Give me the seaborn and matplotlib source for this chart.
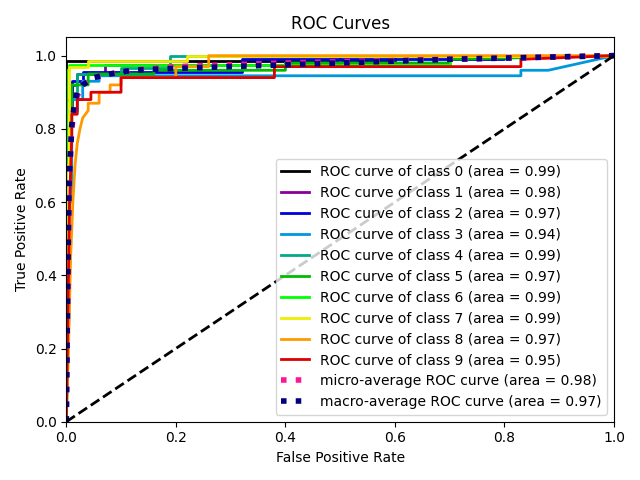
import numpy as np
import pandas as pd
import seaborn as sns
import matplotlib
matplotlib.use("Agg")
import matplotlib.pyplot as plt

# per-class ROC points (fpr, tpr)
fpr_0 = [0, 0, 0.6, 0.6, 1]
tpr_0 = [0, 0.984, 0.984, 1, 1]
fpr_1 = [0, 0, 0.01, 0.01, 0.02, 0.02, 0.07, 0.07, 0.5, 0.5, 1]
tpr_1 = [0, 0.85, 0.85, 0.92, 0.92, 0.95, 0.95, 0.975, 0.975, 1, 1]
fpr_2 = [0, 0, 0.01, 0.01, 0.03, 0.03, 0.32, 0.32, 0.8, 0.8, 1]
tpr_2 = [0, 0.88, 0.88, 0.93, 0.93, 0.955, 0.955, 0.99, 0.99, 1, 1]
fpr_3 = [0, 0.005, 0.005, 0.01, 0.01, 0.03, 0.03, 0.06, 0.06, 0.83, 0.83, 0.88, 1]
tpr_3 = [0, 0.3, 0.6, 0.6, 0.88, 0.88, 0.93, 0.93, 0.945, 0.945, 0.96, 0.96, 1]
fpr_4 = [0, 0, 0.02, 0.02, 0.1, 0.1, 0.19, 0.19, 1]
tpr_4 = [0, 0.85, 0.85, 0.95, 0.95, 0.965, 0.965, 1, 1]
fpr_5 = [0, 0, 0.01, 0.01, 0.04, 0.04, 0.16, 0.16, 0.4, 0.4, 0.7, 0.7, 1]
tpr_5 = [0, 0.8, 0.8, 0.92, 0.92, 0.95, 0.95, 0.96, 0.96, 0.98, 0.98, 0.99, 1]
fpr_6 = [0, 0, 0.005, 0.005, 0.7, 0.7, 1]
tpr_6 = [0, 0.96, 0.96, 0.975, 0.975, 1, 1]
fpr_7 = [0, 0, 0.005, 0.005, 0.04, 0.04, 0.22, 0.22, 1]
tpr_7 = [0, 0.7, 0.7, 0.97, 0.97, 0.985, 0.985, 1, 1]
fpr_8 = [0, 0.004, 0.008, 0.012, 0.016, 0.02, 0.025, 0.03, 0.04, 0.04, 0.06, 0.06, 0.08, 0.08, 0.1, 0.1, 0.2, 0.2, 0.26, 0.26, 1]
tpr_8 = [0, 0.2, 0.45, 0.6, 0.7, 0.76, 0.8, 0.83, 0.85, 0.87, 0.87, 0.9, 0.9, 0.92, 0.92, 0.94, 0.94, 0.97, 0.97, 1, 1]
fpr_9 = [0, 0.003, 0.006, 0.01, 0.01, 0.02, 0.02, 0.045, 0.045, 0.1, 0.1, 0.38, 0.38, 0.83, 0.83, 1]
tpr_9 = [0, 0.3, 0.6, 0.78, 0.84, 0.84, 0.88, 0.88, 0.9, 0.9, 0.94, 0.94, 0.97, 0.97, 0.99, 1]
fpr_micro = [0, 0.002, 0.005, 0.01, 0.015, 0.02, 0.03, 0.05, 0.08, 0.12, 0.2, 0.4, 0.7, 1]
tpr_micro = [0, 0.3, 0.65, 0.8, 0.86, 0.89, 0.92, 0.94, 0.95, 0.96, 0.97, 0.98, 0.99, 1]
fpr_macro = [0, 0.002, 0.005, 0.01, 0.015, 0.02, 0.03, 0.05, 0.08, 0.12, 0.2, 0.4, 0.7, 1]
tpr_macro = [0, 0.3, 0.65, 0.81, 0.87, 0.9, 0.92, 0.94, 0.95, 0.96, 0.965, 0.975, 0.99, 1]
areas = [0.99, 0.98, 0.97, 0.94, 0.99, 0.97, 0.99, 0.99, 0.97, 0.95]

fprs = [fpr_0, fpr_1, fpr_2, fpr_3, fpr_4, fpr_5, fpr_6, fpr_7, fpr_8, fpr_9]
tprs = [tpr_0, tpr_1, tpr_2, tpr_3, tpr_4, tpr_5, tpr_6, tpr_7, tpr_8, tpr_9]

fig, ax = plt.subplots(figsize=(6.4, 4.8), dpi=100)

for i in range(10):
    color = plt.cm.nipy_spectral(float(i) / 10)
    df = pd.DataFrame({"fpr": fprs[i], "tpr": tprs[i]})
    sns.lineplot(data=df, x="fpr", y="tpr", sort=False, estimator=None, ax=ax,
                 color=color, lw=2,
                 label="ROC curve of class {0} (area = {1:0.2f})".format(i, areas[i]))

sns.lineplot(x=fpr_micro, y=tpr_micro, sort=False, estimator=None, ax=ax,
             color="deeppink", linestyle=":", lw=4,
             label="micro-average ROC curve (area = 0.98)")
sns.lineplot(x=fpr_macro, y=tpr_macro, sort=False, estimator=None, ax=ax,
             color="navy", linestyle=":", lw=4,
             label="macro-average ROC curve (area = 0.97)")

ax.plot([0, 1], [0, 1], "k--", lw=2)
ax.set_xlim([0.0, 1.0])
ax.set_ylim([0.0, 1.05])
ax.set_xlabel("False Positive Rate")
ax.set_ylabel("True Positive Rate")
ax.set_title("ROC Curves")
ax.legend(loc="lower right")

plt.tight_layout()
plt.savefig("out.png")
